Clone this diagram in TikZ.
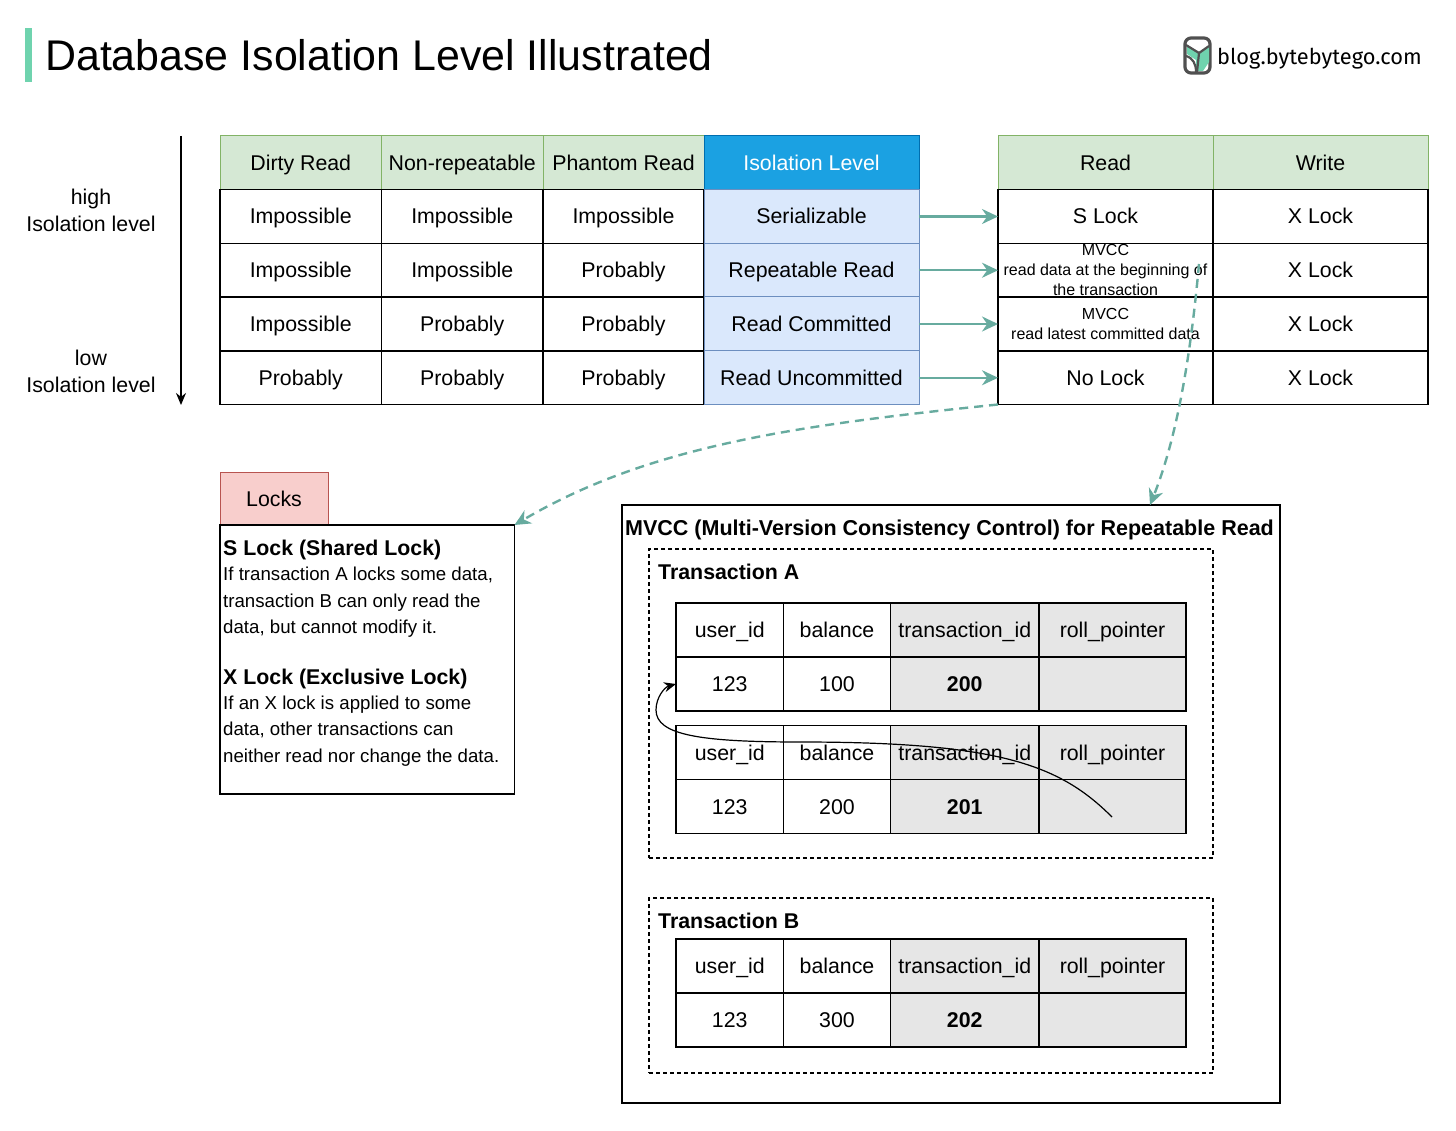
\documentclass[tikz,border=0pt]{standalone}
\usepackage{fontspec}
\setmainfont{Liberation Sans}
\newfontfamily\logofont{Fira Sans}
\usetikzlibrary{arrows.meta}
\definecolor{hgreen}{HTML}{D5E8D4}
\definecolor{hgreenb}{HTML}{82B366}
\definecolor{hblue}{HTML}{1BA1E2}
\definecolor{hblueb}{HTML}{006EAF}
\definecolor{lblue}{HTML}{DAE8FC}
\definecolor{lblueb}{HTML}{6C8EBF}
\definecolor{hred}{HTML}{F8CECC}
\definecolor{hredb}{HTML}{B85450}
\definecolor{teal}{HTML}{67AB9F}
\definecolor{bar}{HTML}{6FD3AE}
\definecolor{gcell}{HTML}{E6E6E6}
\definecolor{logog}{HTML}{505050}
\tikzset{
  x=1pt,y=-1pt,
  base/.style={anchor=north west,inner sep=0pt,outer sep=0pt,line width=1.2pt,font=\fontsize{21.33}{25}\selectfont,align=center,text height=19.5pt,text depth=4.5pt},
  wcell/.style={base,draw=black,fill=white},
  ghead/.style={base,draw=hgreenb,fill=hgreen,line width=1pt},
  bhead/.style={base,draw=hblueb,fill=hblue,text=white,line width=1pt},
  lcell/.style={base,draw=lblueb,fill=lblue,line width=1pt},
  rhead/.style={base,draw=hredb,fill=hred,line width=1pt},
  gycell/.style={base,draw=black,fill=gcell},
  plain/.style={inner sep=0pt,font=\fontsize{21.33}{27}\selectfont,align=center},
  small/.style={inner sep=0pt,font=\fontsize{16}{20}\selectfont,align=center},
  framebox/.style={draw=black,line width=1.2pt,fill=white,inner sep=0pt,outer sep=0pt,anchor=north west},
  dashbox/.style={draw=black,line width=1.2pt,dashed,dash pattern=on 4pt off 3pt,inner sep=0pt,outer sep=0pt,anchor=north west},
  tealarrow/.style={draw=teal,line width=2.4pt,-{Stealth[length=16pt,width=15pt]}},
  tealdash/.style={draw=teal,line width=2.4pt,dash pattern=on 9pt off 6pt,-{Stealth[length=16pt,width=15pt]}},
  blackarrow/.style={draw=black,line width=1.2pt,-{Stealth[length=12pt,width=10pt]}},
  boldtext/.style={anchor=base west,inner sep=0pt,font=\fontsize{21.33}{25}\selectfont\bfseries},
  bodytext/.style={anchor=base west,inner sep=0pt,font=\fontsize{18.67}{26.3}\selectfont,align=left},
}
\newcommand{\cellat}[7]{% name style x y w h text
  \node[#2,minimum width=#5pt,minimum height=#6pt] (#1) at (#3,#4) {#7};}
\newcommand{\minitable}[4]{% prefix y balance txid
  \pgfmathsetmacro{\ya}{#2}\pgfmathsetmacro{\yb}{#2+54}
  \cellat{#1u}{wcell}{676}{\ya}{107.5}{54}{user\_id}
  \cellat{#1b}{wcell}{783.5}{\ya}{107}{54}{balance}
  \cellat{#1t}{gycell}{890.5}{\ya}{148.5}{54}{transaction\_id}
  \cellat{#1r}{gycell}{1039}{\ya}{147}{54}{roll\_pointer}
  \cellat{#1U}{wcell}{676}{\yb}{107.5}{54}{123}
  \cellat{#1B}{wcell}{783.5}{\yb}{107}{54}{#3}
  \cellat{#1T}{gycell}{890.5}{\yb}{148.5}{54}{\textbf{#4}}
  \cellat{#1R}{gycell}{1039}{\yb}{147}{54}{}
}
\begin{document}
\begin{tikzpicture}
\useasboundingbox (0,0) rectangle (1456,1131);
% title
\fill[bar] (25,28) rectangle (32,82);
\node[anchor=base west,inner sep=0pt,font=\fontsize{42.9}{50}\selectfont] (title) at (45,71) {Database Isolation Level Illustrated};
% logo
\draw[logog,line width=3.2pt,rounded corners=6pt] (1185,38) rectangle (1210,73);
\fill[bar] (1187,46) -- (1199,52) -- (1209,46) -- (1209,62) -- (1203,71) -- (1196,71) -- (1196,60) -- (1187,54) -- cycle;
\draw[logog,line width=2.2pt] (1186,45) -- (1199,53) -- (1209,46);
\draw[logog,line width=2.2pt] (1199,53) -- (1197,72);
\draw[logog,line width=2.2pt] (1186,56) .. controls (1193,58) and (1196,64) .. (1196,72);
\node[anchor=base west,inner sep=0pt,font=\logofont\fontsize{21.8}{26}\selectfont] (logotext) at (1217,65) {blog.bytebytego.com};
% axis
\coordinate (axt) at (181,136);
\coordinate (axb) at (181,405);
\draw[blackarrow,line width=1.3pt] (axt) -- (axb);
\node[plain] (hi) at (91,210) {high\\Isolation level};
\node[plain] (lo) at (91,371) {low\\Isolation level};
% main table
\cellat{h1}{ghead}{220}{136}{161.5}{53.5}{Dirty Read}
\cellat{h2}{ghead}{381.5}{136}{161.5}{53.5}{Non-repeatable}
\cellat{h3}{ghead}{543}{136}{161}{53.5}{Phantom Read}
\cellat{h4}{bhead}{704}{136}{215}{53.5}{Isolation Level}
\cellat{a1}{wcell}{220}{189.5}{161.5}{54}{Impossible}
\cellat{a2}{wcell}{381.5}{189.5}{161.5}{54}{Impossible}
\cellat{a3}{wcell}{543}{189.5}{161}{54}{Impossible}
\cellat{b1}{wcell}{220}{243.5}{161.5}{53.5}{Impossible}
\cellat{b2}{wcell}{381.5}{243.5}{161.5}{53.5}{Impossible}
\cellat{b3}{wcell}{543}{243.5}{161}{53.5}{Probably}
\cellat{c1}{wcell}{220}{297}{161.5}{54}{Impossible}
\cellat{c2}{wcell}{381.5}{297}{161.5}{54}{Probably}
\cellat{c3}{wcell}{543}{297}{161}{54}{Probably}
\cellat{d1}{wcell}{220}{351}{161.5}{53.5}{Probably}
\cellat{d2}{wcell}{381.5}{351}{161.5}{53.5}{Probably}
\cellat{d3}{wcell}{543}{351}{161}{53.5}{Probably}
\cellat{ser}{lcell}{704}{189.5}{215}{54}{Serializable}
\cellat{rr}{lcell}{704}{243.5}{215}{53.5}{Repeatable Read}
\cellat{rc}{lcell}{704}{297}{215}{54}{Read Committed}
\cellat{ru}{lcell}{704}{351}{215}{53.5}{Read Uncommitted}
% right table
\cellat{rh}{ghead}{998}{136}{215}{53.5}{Read}
\cellat{wh}{ghead}{1213}{136}{215}{53.5}{Write}
\cellat{r1}{wcell}{998}{189.5}{215}{54}{S Lock}
\cellat{r2}{wcell}{998}{243.5}{215}{53.5}{}
\cellat{r3}{wcell}{998}{297}{215}{54}{}
\cellat{r4}{wcell}{998}{351}{215}{53.5}{No Lock}
\cellat{w1}{wcell}{1213}{189.5}{215}{54}{X Lock}
\cellat{w2}{wcell}{1213}{243.5}{215}{53.5}{X Lock}
\cellat{w3}{wcell}{1213}{297}{215}{54}{X Lock}
\cellat{w4}{wcell}{1213}{351}{215}{53.5}{X Lock}
\node[small] (r2t) at (r2.center) {MVCC\\read data at the beginning of\\the transaction};
\node[small] (r3t) at (r3.center) {MVCC\\read latest committed data};
% arrows
\draw[tealarrow] (ser.east) -- (r1.west);
\draw[tealarrow] (rr.east) -- (r2.west);
\draw[tealarrow] (rc.east) -- (r3.west);
\draw[tealarrow] (ru.east) -- (r4.west);
% locks
\cellat{lh}{rhead}{220}{472}{108}{53}{Locks}
\cellat{lb}{framebox}{220}{525}{294.5}{269}{}
\node[boldtext] (s1) at (223,555) {S Lock (Shared Lock)};
\node[bodytext] (s2) at (223,633.5) {If transaction A locks some data,\\transaction B can only read the\\data, but cannot modify it.};
\node[boldtext] (x1) at (223,684) {X Lock (Exclusive Lock)};
\node[bodytext] (x2) at (223,762) {If an X lock is applied to some\\data, other transactions can\\neither read nor change the data.};
% mvcc
\cellat{mv}{framebox}{622}{505}{658}{598}{}
\node[boldtext,font=\fontsize{21.5}{25}\selectfont\bfseries] (mvt) at (625,535) {MVCC (Multi-Version Consistency Control) for Repeatable Read};
\cellat{ta}{dashbox}{649}{549}{564}{309}{}
\node[boldtext] (tat) at (658,579) {Transaction A};
\cellat{tb}{dashbox}{649}{898}{564}{175}{}
\node[boldtext] (tbt) at (658,928) {Transaction B};
\minitable{p}{603}{100}{200}
\minitable{q}{725.5}{200}{201}
\minitable{s}{939}{300}{202}
% connectors
\coordinate (d1s) at (1199,264);
\coordinate (d1e) at (1150,505);
\draw[tealdash] (d1s) .. controls (1192,340) and (1180,430) .. (d1e);
\draw[tealdash] (r4.south west) .. controls (800,425) and (650,445) .. (lb.north east);
\coordinate (cs) at (1112,817);
\draw[blackarrow] (cs) .. controls (1060,765) and (1000,742) .. (800,742)
  .. controls (700,742) and (656,735) .. (656,710)
  .. controls (656,697) and (665,687) .. (pU.west);
\end{tikzpicture}
\end{document}
